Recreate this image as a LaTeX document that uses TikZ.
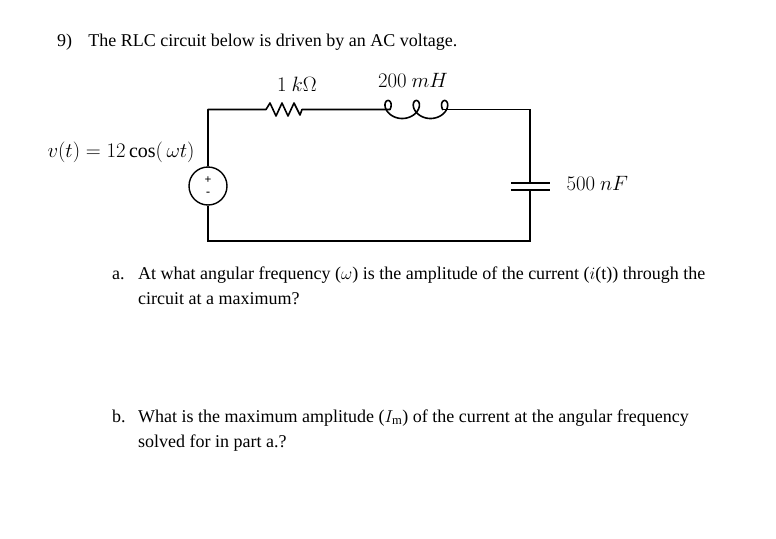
\documentclass[tikz,border=0pt]{standalone}
\usepackage{fontspec}
\setmainfont{Liberation Serif}
\begin{document}
\begin{tikzpicture}[x=1pt,y=-1pt,
  wire/.style={line width=1.6pt},
  mlab/.style={font=\fontsize{20}{24}\selectfont},
  txt/.style={anchor=base west,inner sep=0pt,font=\fontsize{18}{21}\selectfont}]
\useasboundingbox (0,0) rectangle (776,538);
\node[txt] (title) at (57,46) {9)\hspace{0.9em}The RLC circuit below is driven by an AC voltage.};
\coordinate (tl) at (208,109.5);
\coordinate (tr) at (530,109.5);
\coordinate (br) at (530,241);
\coordinate (bl) at (208,241);
\node[circle,draw,line width=1.4pt,minimum size=38pt,inner sep=0pt] (src) at (208,186) {};
\node[font=\fontsize{12}{12}\selectfont\bfseries] at (208,180) {+};
\node[font=\fontsize{12}{12}\selectfont\bfseries] at (208,194) {-};
\coordinate (r1) at (262,109.5); \coordinate (r2) at (306,109.5);
\coordinate (l1) at (390,109.5); \coordinate (l2) at (443,109.5);
\coordinate (c1) at (530,183); \coordinate (c2) at (530,190);
\draw[wire,line join=round] (src.north) -- (tl) -- (r1) -- (266,109.5) -- (270,103) -- (276,116) -- (282,103) -- (288,116) -- (294,103) -- (300,115) -- (302,109.5) -- (r2) -- (l1);
\draw[wire,line join=round] (l1) -- plot[domain=-1.5708:14.137,samples=150,variable=\t] ({388.07+4.5*\t-9*sin(\t r)},{109.5-9*cos(\t r)}) -- (l2);
\draw[wire] (l2) -- (tr) -- (c1);
\draw[wire] (511,183) -- (550,183);
\draw[wire] (511,190) -- (550,190);
\draw[wire] (c2) -- (br) -- (bl) -- (src.south);
\node[mlab] (lr) at (297,84) {$1\ k\Omega$};
\node[mlab] (ll) at (413,80) {$200\ mH$};
\node[mlab,anchor=west] (lv) at (44,152) {$v(t)=12\cos(\,\omega t)$};
\node[mlab,anchor=west] (lc) at (563,183) {$500\ nF$};
\node[txt] (a) at (112,279) {a.};
\node[txt] (a1) at (138,279) {At what angular frequency ($\omega$) is the amplitude of the current ($i$(t)) through the};
\node[txt] (a2) at (138,304) {circuit at a maximum?};
\node[txt] (b) at (112,422) {b.};
\node[txt] (b1) at (138,422) {What is the maximum amplitude ($I_{\mathrm m}$) of the current at the angular frequency};
\node[txt] (b2) at (138,447) {solved for in part a.?};
\end{tikzpicture}
\end{document}
